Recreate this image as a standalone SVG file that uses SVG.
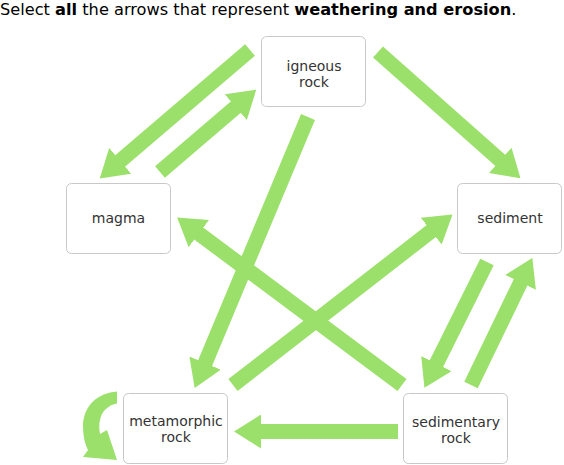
<svg xmlns="http://www.w3.org/2000/svg" width="564" height="465" viewBox="0 0 564 465">
<defs>
<style>
.title{font-family:"DejaVu Sans",Verdana,sans-serif;font-size:16.2px;fill:#000}
.box{fill:#fff;stroke:#c8c8c8;stroke-width:1}
.lbl{font-family:"DejaVu Sans",Verdana,sans-serif;font-size:14px;fill:#333;text-anchor:middle}
.arr{stroke:#9ae06b;stroke-width:15;fill:none;marker-end:url(#head)}
</style>
<marker id="head" markerUnits="userSpaceOnUse" markerWidth="27" markerHeight="34" viewBox="0 0 27 34" refX="1" refY="17" orient="auto">
<path d="M0,0 L27,17 L0,34 Z" fill="#9ae06b"/>
</marker>
</defs>
<rect width="564" height="465" fill="#fff"/>
<text class="title" x="0" y="15">Select <tspan font-weight="bold">all</tspan> the arrows that represent <tspan font-weight="bold">weathering and erosion</tspan>.</text>
<g id="connectors">
<line class="arr" x1="250" y1="50" x2="119.5" y2="161.5"/>
<line class="arr" x1="160" y1="172" x2="236.5" y2="106.5"/>
<line class="arr" x1="378" y1="52" x2="501" y2="161"/>
<line class="arr" x1="308" y1="117" x2="204.7" y2="364"/>
<line class="arr" x1="233" y1="385" x2="432" y2="230.5"/>
<line class="arr" x1="402" y1="385" x2="198" y2="233"/>
<line class="arr" x1="487" y1="262" x2="436" y2="364.5"/>
<line class="arr" x1="471" y1="385" x2="521" y2="281.5"/>
<line class="arr" x1="398" y1="431.5" x2="260" y2="431.5"/>
<path d="M117,391.5 C98,393 84,405 83,425 C83,436 85,444 88,450 L83,457 L117,460 L107,430 L100,434 C98,424 100,414 106,409 C109,406 113,404 117,403.5 Z" fill="#9ae06b"/>
</g>
<g id="igneous">
<rect class="box" x="261.5" y="36.5" width="104" height="70" rx="5"/>
<text class="lbl" x="314" y="71">igneous</text>
<text class="lbl" x="314" y="87">rock</text>
</g>
<g id="magma">
<rect class="box" x="66.5" y="183.5" width="104" height="70" rx="5"/>
<text class="lbl" x="118.5" y="223">magma</text>
</g>
<g id="sediment">
<rect class="box" x="457.5" y="183.5" width="104" height="70" rx="5"/>
<text class="lbl" x="510" y="223">sediment</text>
</g>
<g id="metamorphic">
<rect class="box" x="123.5" y="393.5" width="104" height="70" rx="5"/>
<text class="lbl" x="176" y="426">metamorphic</text>
<text class="lbl" x="176" y="442">rock</text>
</g>
<g id="sedimentary">
<rect class="box" x="403.5" y="393.5" width="104" height="70" rx="5"/>
<text class="lbl" x="456" y="427">sedimentary</text>
<text class="lbl" x="456" y="443">rock</text>
</g>
</svg>
